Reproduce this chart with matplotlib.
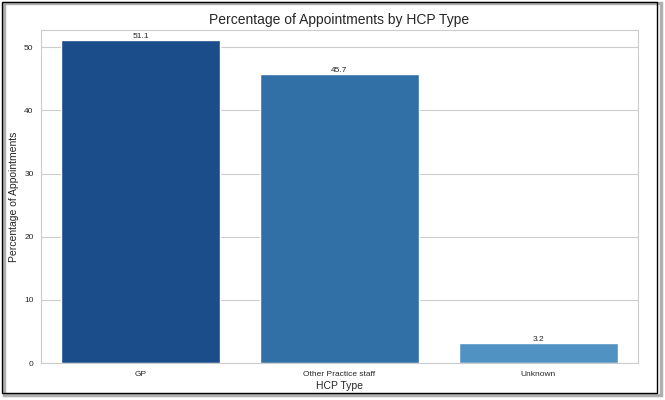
import matplotlib
matplotlib.use("Agg")
import matplotlib.pyplot as plt
import seaborn as sns
from matplotlib.patches import Rectangle

hcp_types = ["GP", "Other Practice staff", "Unknown"]
percentages = [51.1, 45.7, 3.2]
bar_colors = ["#1a4d89", "#3170a7", "#5093c3"]

sns.set_style("whitegrid")
plt.rcParams['font.family'] = ['Liberation Sans', 'DejaVu Sans']

fig = plt.figure(figsize=(6.65, 4), dpi=100)
ax = fig.add_axes([0.062, 0.092, 0.897, 0.833])

bars = ax.bar(hcp_types, percentages, color=bar_colors, width=0.8)
for b, v in zip(bars, percentages):
    ax.text(b.get_x() + b.get_width() / 2, v, f"{v}", ha="center", va="bottom", fontsize=6)

ax.set_xlim(-0.5, 2.5)
ax.set_ylim(0, 52.7)
ax.set_title("Percentage of Appointments by HCP Type", fontsize=10, pad=4)
ax.set_xlabel("HCP Type", fontsize=7.5, labelpad=2)
ax.set_ylabel("Percentage of Appointments", fontsize=7.5, labelpad=4)
ax.tick_params(axis="both", labelsize=6, pad=2)
ax.grid(axis="x", visible=False)
for s in ax.spines.values():
    s.set_color("#cccccc")

# frame around the picture
fig.patches.append(Rectangle((0.006, 0.012), 0.988, 0.98, transform=fig.transFigure,
                             fill=False, edgecolor="#b0b0b0", linewidth=2.5))
fig.patches.append(Rectangle((0.003, 0.017), 0.985, 0.978, transform=fig.transFigure,
                             fill=False, edgecolor="black", linewidth=1))

fig.savefig("out.png", dpi=100)
